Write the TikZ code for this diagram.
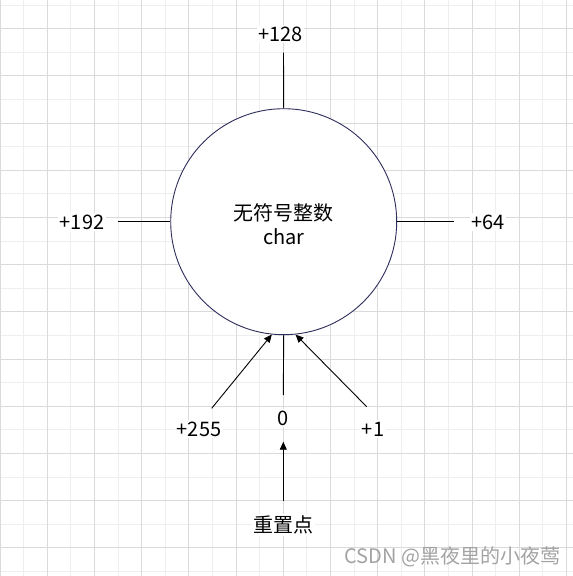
\documentclass[tikz,border=0pt]{standalone}
\usepackage{fontspec}
\setmainfont{Noto Sans CJK SC}
\usetikzlibrary{arrows.meta}
\definecolor{gridmajor}{HTML}{DADADA}
\definecolor{gridminor}{HTML}{EEEEEE}
\definecolor{circlecol}{HTML}{2E2E5C}
\definecolor{wmark}{HTML}{A3A3A3}
\tikzset{
  lbl/.style={fill=white,inner sep=1.5pt,font=\fontsize{20}{24}\selectfont,text=black},
  conn/.style={draw=black,line width=0.9pt},
  arr/.style={conn,-{Triangle[length=8pt,width=7pt]}},
}
\begin{document}
\begin{tikzpicture}[x=1pt,y=-1pt]
\useasboundingbox (0,0) rectangle (573,576);
\fill[white] (0,0) rectangle (573,576);
% grid
\foreach \k in {0,...,24} {
  \pgfmathsetmacro{\xx}{23.6*\k}
  \pgfmathsetmacro{\yy}{5+23.6*\k}
  \ifodd\k
    \draw[gridminor,line width=1pt] (\xx,0) -- (\xx,576);
    \draw[gridmajor,line width=1pt] (0,\yy) -- (573,\yy);
  \else
    \draw[gridmajor,line width=1pt] (\xx,0) -- (\xx,576);
    \draw[gridminor,line width=1pt] (0,\yy) -- (573,\yy);
  \fi
}
% re-draw majors over minors
\foreach \k in {0,2,...,24} {
  \pgfmathsetmacro{\xx}{23.6*\k}
  \draw[gridmajor,line width=1pt] (\xx,0) -- (\xx,576);
}
\foreach \k in {1,3,...,23} {
  \pgfmathsetmacro{\yy}{5+23.6*\k}
  \draw[gridmajor,line width=1pt] (0,\yy) -- (573,\yy);
}
% circle
\node[circle,draw=circlecol,fill=white,line width=0.9pt,minimum size=226pt,inner sep=0pt] (c) at (283.7,221.7) {};
\node[align=center,font=\fontsize{20}{24}\selectfont] (ctext) at (283.7,224.5) {无符号整数\\char};
% labels
\node[lbl] (l128) at (280.5,34) {+128};
\node[lbl] (l192) at (82,222) {+192};
\node[lbl] (l64) at (488,222) {+64};
\node[lbl] (l255) at (199,429) {+255};
\node[lbl] (l0) at (283.3,418) {0};
\node[lbl] (l1) at (373,429) {+1};
\node[lbl] (reset) at (283.3,525) {重置点};
\node[font=\fontsize{20}{24}\selectfont,text=wmark,inner sep=0pt] (wm) at (452.5,556.5) {CSDN @黑夜里的小夜莺};
% free ends
\coordinate (t128) at (283.5,52.7);
\coordinate (t192) at (117.7,221.7);
\coordinate (t64) at (454,221.7);
\coordinate (s255) at (211.7,408.3);
\coordinate (s0) at (283.3,395);
\coordinate (s1) at (366.7,406.7);
\coordinate (sreset) at (283.3,501);
\coordinate (treset) at (283.3,441.7);
% connectors
\draw[conn] (t128) -- (c.north);
\draw[conn] (t192) -- (c.west);
\draw[conn] (c.east) -- (t64);
\draw[conn] (s0) -- (c.south);
\draw[arr] (s255) -- (c.264);
\draw[arr] (s1) -- (c.276);
\draw[arr] (sreset) -- (treset);
\end{tikzpicture}
\end{document}
